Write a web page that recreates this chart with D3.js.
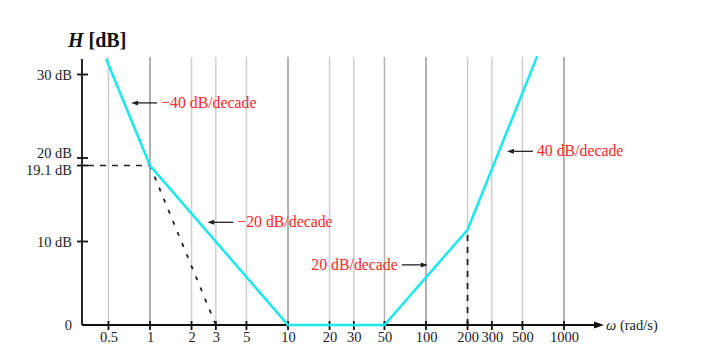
<!DOCTYPE html>
<html><head><meta charset="utf-8">
<script src="https://cdn.jsdelivr.net/npm/d3@7"></script>
<style>body{margin:0;background:#fff}svg{display:block}</style>
</head><body><svg id="c" width="702" height="360"></svg>
<script>
const xTicks = [0.5, 1, 2, 3, 5, 10, 20, 30, 50, 100, 200, 300, 500, 1000];
const xTickLabels = ["0.5","1","2","3","5","10","20","30","50","100","200","300","500","1000"];
const majorTicks = [1, 10, 100, 1000];
const yTicks = [0, 10, 19.1, 20, 30];
const yTickLabels = ["0","10 dB","19.1 dB","20 dB","30 dB"];
const omega = [0.48, 1, 10, 50, 200, 640];
const H = [31.9, 19.1, 0, 0, 11.4, 32.2];
const asymOmega = [1, 3];
const asymH = [19.1, 0];
const slopeLabels = ["\u221240 dB/decade", "\u221220 dB/decade", "20 dB/decade", "40 dB/decade"];
const arrowTipOmega = [0.73, 2.6, 103, 386];
const arrowTipH = [26.6, 12.3, 7.2, 20.8];

const FONT = "'Liberation Serif', 'Times New Roman', Times, 'DejaVu Serif', serif";
const svg = d3.select("#c");
const x = d3.scaleLog().domain([100, 1000]).range([426, 564]);
const y = d3.scaleLinear().domain([0, 30]).range([325, 74.5]);
const gridTop = 57;

// gridlines
svg.append("g").selectAll("line").data(xTicks).join("line")
  .attr("x1", d => x(d)).attr("x2", d => x(d))
  .attr("y1", gridTop).attr("y2", y(0))
  .attr("stroke", d => majorTicks.includes(d) ? "#999" : (d === 50 ? "#b0b0b0" : "#cfcfcf"))
  .attr("stroke-width", 1.5);

// axes
const xAxis = d3.axisBottom(x).tickValues(xTicks).tickFormat((d, i) => xTickLabels[i]).tickSize(0).tickPadding(7);
const gx = svg.append("g").attr("transform", `translate(0,${y(0)})`).call(xAxis);
gx.attr("font-family", null);
gx.select(".domain").remove();
gx.selectAll("text").attr("font-size", 14.5).attr("fill", "#222").style("font-family", FONT);
svg.append("line").attr("x1", 82).attr("x2", 598).attr("y1", y(0)).attr("y2", y(0)).attr("stroke", "#111").attr("stroke-width", 1.8);
svg.append("path").attr("d", `M604,${y(0)} L594,${y(0)-3.5} L594,${y(0)+3.5} Z`).attr("fill", "#111");
svg.append("g").selectAll("line").data(xTicks).join("line")
  .attr("x1", d => x(d)).attr("x2", d => x(d)).attr("y1", y(0) - 4).attr("y2", y(0) + 5)
  .attr("stroke", "#111").attr("stroke-width", 1.8);

const gy = svg.append("g").attr("transform", "translate(82,0)")
  .call(d3.axisLeft(y).tickValues(yTicks).tickFormat((d, i) => yTickLabels[i]).tickSize(0).tickPadding(10));
gy.attr("font-family", null);
gy.select(".domain").remove();
gy.selectAll("text").attr("font-size", 14.5).attr("fill", "#222").style("font-family", FONT)
  .attr("dy", (d) => d === 20 ? "-0.05em" : (d === 19.1 ? "0.6em" : "0.32em"));
svg.append("line").attr("x1", 82).attr("x2", 82).attr("y1", 59).attr("y2", y(0)).attr("stroke", "#111").attr("stroke-width", 1.8);
svg.append("g").selectAll("line").data(yTicks.filter(d => d > 0)).join("line")
  .attr("x1", 77).attr("x2", 88).attr("y1", d => y(d)).attr("y2", d => y(d))
  .attr("stroke", "#111").attr("stroke-width", 1.8);

// dashed helpers
svg.append("line").attr("x1", 88).attr("x2", x(1)).attr("y1", y(19.1)).attr("y2", y(19.1))
  .attr("stroke", "#222").attr("stroke-width", 1.6).attr("stroke-dasharray", "6,6");
svg.append("path").datum(asymOmega.map((w, i) => [w, asymH[i]]))
  .attr("d", d3.line().x(d => x(d[0])).y(d => y(d[1])))
  .attr("stroke", "#222").attr("stroke-width", 1.8).attr("stroke-dasharray", "4,8").attr("fill", "none");
svg.append("line").attr("x1", x(200)).attr("x2", x(200)).attr("y1", y(0)).attr("y2", y(H[4]))
  .attr("stroke", "#222").attr("stroke-width", 1.8).attr("stroke-dasharray", "6,6");

// response line
svg.append("path").datum(omega.map((w, i) => [w, H[i]]))
  .attr("d", d3.line().x(d => x(d[0])).y(d => y(d[1])))
  .attr("stroke", "#1ee8ee").attr("stroke-width", 2.6).attr("fill", "none");

// title
const t = svg.append("text").attr("x", 68).attr("y", 47).attr("font-size", 20).attr("font-weight", "bold").attr("fill", "#111").style("font-family", FONT);
t.append("tspan").attr("font-style", "italic").text("H");
t.append("tspan").text(" [dB]");

svg.append("text").attr("x", 606).attr("y", y(0) + 5).attr("font-size", 14.5).attr("fill", "#222").style("font-family", FONT)
  .html('<tspan font-style="italic">\u03c9</tspan> (rad/s)');

// slope annotations: arrow points from text toward the line
const arrowDirs = [-1, -1, 1, -1];
slopeLabels.forEach((s, i) => {
  const tipX = x(arrowTipOmega[i]), py = y(arrowTipH[i]);
  const dir = arrowDirs[i];
  const tailX = tipX - dir * 26;
  const textX = tailX - dir * 4;
  svg.append("text").attr("x", textX).attr("y", py + 5).attr("font-size", 15.8).attr("fill", "#ff2a2a").style("font-family", FONT)
    .attr("text-anchor", dir < 0 ? "start" : "end").text(s);
  svg.append("line").attr("x1", tailX).attr("x2", tipX - dir * 5).attr("y1", py).attr("y2", py).attr("stroke", "#222").attr("stroke-width", 1.3);
  svg.append("path").attr("d", `M${tipX},${py} L${tipX - dir * 7},${py - 2.5} L${tipX - dir * 7},${py + 2.5} Z`).attr("fill", "#222");
});
</script></body></html>
